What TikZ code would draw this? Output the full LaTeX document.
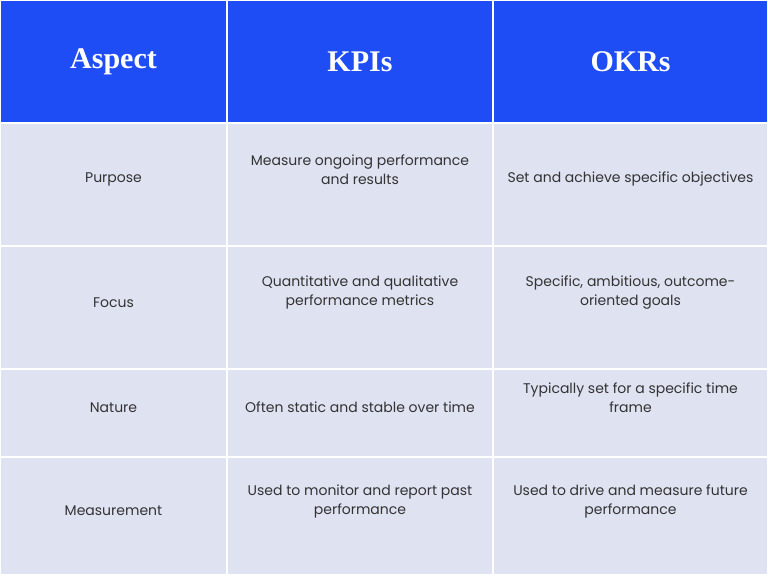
\documentclass[tikz,border=0pt]{standalone}
\usepackage{fontspec}
\setmainfont{Poppins}
\newfontfamily\headfont{Liberation Serif}
\usetikzlibrary{positioning}
\definecolor{headblue}{HTML}{1F4DF5}
\definecolor{cellgray}{HTML}{DFE2F1}
\definecolor{textgray}{HTML}{333333}
\tikzset{
  cell/.style={draw=white, line width=1.5pt, fill=cellgray, text=textgray,
    font=\fontsize{14}{19}\selectfont, align=center, inner sep=0pt, outer sep=0pt},
  head/.style={cell, fill=headblue, text=white, font=\headfont\bfseries\fontsize{30}{34}\selectfont}
}
\begin{document}
\begin{tikzpicture}[x=1pt,y=-1pt]
\useasboundingbox (0,0) rectangle (768,576);
% Kopfzeile
\node[head, minimum width=227pt, minimum height=123pt] (h1) at (113.5,61.5) {Aspect};
\node[head, minimum width=266pt, minimum height=123pt] (h2) at (360,61.5) {KPIs};
\node[head, minimum width=275pt, minimum height=123pt] (h3) at (630.5,61.5) {OKRs};
% Zeilen
\foreach \name/\yc/\ht/\a/\b/\c in {
  purp/184.5/123/Purpose/{Measure ongoing performance\\and results}/{Set and achieve specific objectives},
  focu/307.5/123/Focus/{Quantitative and qualitative\\performance metrics}/{Specific, ambitious, outcome-\\oriented goals},
  natu/413/88/Nature/{Often static and stable over time}/{Typically set for a specific time\\frame},
  meas/516/118/Measurement/{Used to monitor and report past\\performance}/{Used to drive and measure future\\performance}}{
  \node[cell, minimum width=227pt, minimum height=\ht pt] (\name-1) at (113.5,\yc) {\a};
  \node[cell, minimum width=266pt, minimum height=\ht pt] (\name-2) at (360,\yc) {\b};
  \node[cell, minimum width=275pt, minimum height=\ht pt] (\name-3) at (630.5,\yc) {\c};
}
\end{tikzpicture}
\end{document}
